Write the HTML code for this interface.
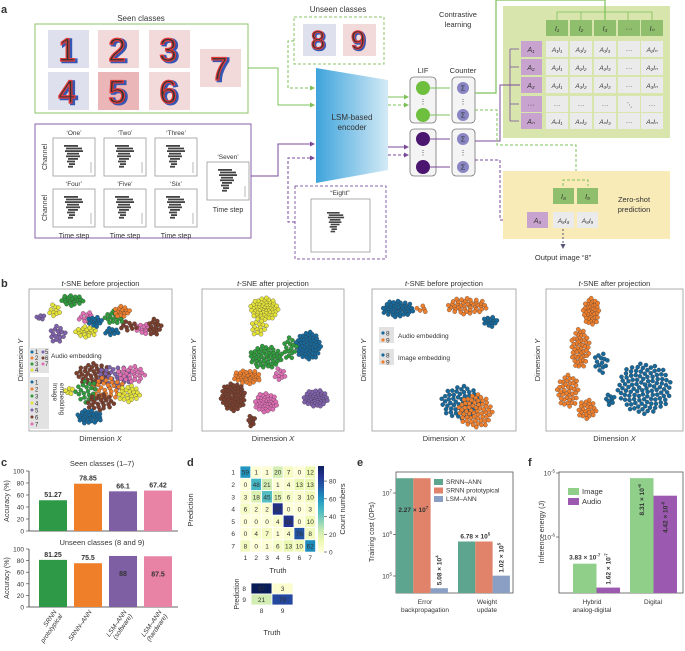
<!DOCTYPE html>
<html><head><meta charset="utf-8">
<style>
html,body{margin:0;padding:0;background:#fff;}
svg{display:block;font-family:"Liberation Sans",sans-serif;}
text{fill:#333;}
</style></head>
<body>
<svg id="fig" width="685" height="651" viewBox="0 0 685 651" xmlns="http://www.w3.org/2000/svg">
<defs>
<linearGradient id="encg" x1="0" x2="1" y1="0" y2="0"><stop offset="0" stop-color="#3ea4dc"/><stop offset="1" stop-color="#d4eaf6"/></linearGradient>
<marker id="ag" markerWidth="5" markerHeight="5" refX="4" refY="2.5" orient="auto"><path d="M0,0L5,2.5L0,5z" fill="#7cc05a"/></marker>
<marker id="ap" markerWidth="5" markerHeight="5" refX="4" refY="2.5" orient="auto"><path d="M0,0L5,2.5L0,5z" fill="#7b4a9a"/></marker>
<marker id="ak" markerWidth="5" markerHeight="5" refX="4" refY="2.5" orient="auto"><path d="M0,0L5,2.5L0,5z" fill="#557"/></marker>
</defs>

<!-- ===== Panel a ===== -->
<g>
<text x="1" y="13" font-size="11" font-weight="bold" fill="#000">a</text>
<text x="141" y="21" font-size="8" text-anchor="middle">Seen classes</text>
<rect x="35" y="24" width="213" height="89" fill="#fff" stroke="#8cc66b" stroke-width="1"/>
<g id="digits"></g>
<rect x="35" y="124" width="216" height="114" fill="#fff" stroke="#8a62a8" stroke-width="1"/>
<g id="specs"></g>
<text transform="translate(47,157) rotate(-90)" font-size="7" text-anchor="middle">Channel</text>
<text transform="translate(47,208) rotate(-90)" font-size="7" text-anchor="middle">Channel</text>

<text x="338" y="12" font-size="8" text-anchor="middle">Unseen classes</text>
<rect x="294" y="17" width="90" height="47" fill="none" stroke="#8cc66b" stroke-dasharray="3,2"/>
<rect x="303" y="24" width="33" height="32" fill="#dfe0ee"/>
<text x="319" y="50" font-size="26" text-anchor="middle" fill="none" stroke="#3757b5" stroke-width="2">8</text>
<text x="318" y="49" font-size="26" text-anchor="middle" fill="none" stroke="#e23b3b" stroke-width="1">8</text>
<rect x="343" y="24" width="33" height="32" fill="#f3dada"/>
<text x="359" y="50" font-size="26" text-anchor="middle" fill="none" stroke="#3757b5" stroke-width="2">9</text>
<text x="358" y="49" font-size="26" text-anchor="middle" fill="none" stroke="#e23b3b" stroke-width="1">9</text>

<rect x="295" y="186" width="91" height="73" fill="none" stroke="#8a62a8" stroke-dasharray="3,2"/>
<text x="340" y="195" font-size="6.5" text-anchor="middle">“Eight”</text>
<rect x="311" y="199" width="59" height="53" fill="#fff" stroke="#999" stroke-width="0.8"/>
<g id="eightspec"></g>

<!-- arrows into encoder -->
<path d="M248,68 H278 V105 H314" fill="none" stroke="#7cc05a" marker-end="url(#ag)"/>
<path d="M294,41 H288 V88 H314" fill="none" stroke="#7cc05a" stroke-dasharray="3,2" marker-end="url(#ag)"/>
<path d="M251,176 H278 V144 H314" fill="none" stroke="#7b4a9a" marker-end="url(#ap)"/>
<path d="M295,222 H288 V158 H314" fill="none" stroke="#7b4a9a" stroke-dasharray="3,2" marker-end="url(#ap)"/>

<polygon points="316,68 388,80 388,170 316,183" fill="url(#encg)"/>
<text x="352" y="120" font-size="8" text-anchor="middle" fill="#222">LSM-based</text>
<text x="352" y="130" font-size="8" text-anchor="middle" fill="#222">encoder</text>

<text x="423" y="73" font-size="7.5" text-anchor="middle">LIF</text>
<text x="463" y="73" font-size="7.5" text-anchor="middle">Counter</text>
<path d="M388,97 H408" stroke="#7cc05a" marker-end="url(#ag)"/>
<path d="M388,105 H408" stroke="#7cc05a" stroke-dasharray="3,2" marker-end="url(#ag)"/>
<path d="M388,147 H408" stroke="#7b4a9a" marker-end="url(#ap)"/>
<path d="M388,155 H408" stroke="#7b4a9a" stroke-dasharray="3,2" marker-end="url(#ap)"/>
<rect x="410" y="77" width="26" height="46" rx="4" fill="#f4f4f4" stroke="#777" stroke-width="0.8"/>
<rect x="410" y="129" width="26" height="47" rx="4" fill="#f4f4f4" stroke="#777" stroke-width="0.8"/>
<rect x="452" y="77" width="23" height="46" rx="4" fill="#f4f4f4" stroke="#777" stroke-width="0.8"/>
<rect x="452" y="129" width="23" height="47" rx="4" fill="#f4f4f4" stroke="#777" stroke-width="0.8"/>
<circle cx="423" cy="88" r="7" fill="#6fbf3f"/><circle cx="423" cy="115" r="7" fill="#6fbf3f"/>
<circle cx="423" cy="139" r="7" fill="#4a1670"/><circle cx="423" cy="167" r="7" fill="#4a1670"/>
<path d="M430,88H450M430,115H450" stroke="#7cc05a"/><path d="M430,139H450M430,167H450" stroke="#7b4a9a"/>
<g font-size="7" fill="#fff" text-anchor="middle">
<circle cx="463" cy="88" r="6" fill="#8a86c4"/><circle cx="463" cy="115" r="6" fill="#8a86c4"/>
<circle cx="463" cy="139" r="6" fill="#8a86c4"/><circle cx="463" cy="167" r="6" fill="#8a86c4"/>
<text x="463" y="90.5" fill="#223">Σ</text><text x="463" y="117.5" fill="#223">Σ</text><text x="463" y="141.5" fill="#223">Σ</text><text x="463" y="169.5" fill="#223">Σ</text>
</g>
<text x="423" y="104" font-size="7" text-anchor="middle">⋮</text><text x="423" y="155" font-size="7" text-anchor="middle">⋮</text>
<text x="463" y="104" font-size="7" text-anchor="middle">⋮</text><text x="463" y="155" font-size="7" text-anchor="middle">⋮</text>

<text x="458" y="17" font-size="7.5" text-anchor="middle">Contrastive</text>
<text x="458" y="27" font-size="7.5" text-anchor="middle">learning</text>

<rect x="503" y="6" width="167" height="132" fill="#d8e6ae"/>
<path d="M475,93 H496 V0 H605 V20" fill="none" stroke="#7cc05a" stroke-width="1.2"/>
<path d="M557,20 V12 H652 V20 M581,12V20 M605,12V20 M628,12V20" fill="none" stroke="#7cc05a" stroke-width="0.8"/>
<path d="M475,141 H500 V85 H520" fill="none" stroke="#7b4a9a"/>
<path d="M510,49 V121 M510,49H519 M510,67H519 M510,85H519 M510,104H519 M510,121H519" fill="none" stroke="#7b4a9a" stroke-width="0.8"/>
<g id="matrix"></g>

<path d="M475,110 H497 V145 H576 V186" fill="none" stroke="#7cc05a" stroke-dasharray="3,2"/>
<path d="M475,160 H500 V220 H525" fill="none" stroke="#7b4a9a" stroke-dasharray="3,2" marker-end="url(#ap)"/>
<rect x="503" y="171" width="167" height="68" fill="#f8ebb8"/>
<path d="M563,186 V180 H588 V186" fill="none" stroke="#7cc05a" stroke-dasharray="3,2"/>
<g id="zmatrix"></g>
<text x="634" y="202" font-size="7.5" text-anchor="middle">Zero-shot</text>
<text x="634" y="212" font-size="7.5" text-anchor="middle">prediction</text>
<path d="M563,229 V248" stroke="#557" stroke-dasharray="2,2" marker-end="url(#ak)"/>
<text x="563" y="260" font-size="7.5" text-anchor="middle">Output image “8”</text>
</g>

<!-- ===== Panel b ===== -->
<g>
<text x="1" y="287" font-size="11" font-weight="bold" fill="#000">b</text>
<g id="tsne"></g>
</g>

<!-- ===== Panel c ===== -->
<g id="pc">
<text x="1" y="466" font-size="11" font-weight="bold" fill="#000">c</text>
<text x="102" y="466" font-size="7.5" text-anchor="middle">Seen classes (1–7)</text>
<text x="102" y="545" font-size="7.5" text-anchor="middle">Unseen classes (8 and 9)</text>
<text transform="translate(9,501) rotate(-90)" font-size="7" text-anchor="middle">Accuracy (%)</text>
<text transform="translate(9,578) rotate(-90)" font-size="7" text-anchor="middle">Accuracy (%)</text>
</g>

<!-- ===== Panel d ===== -->
<g id="pd">
<text x="187" y="466" font-size="11" font-weight="bold" fill="#000">d</text>
<text transform="translate(193,510) rotate(-90)" font-size="7.5" text-anchor="middle">Prediction</text>
<text x="278" y="573" font-size="7.5" text-anchor="middle">Truth</text>
<text transform="translate(345,509) rotate(-90)" font-size="7.5" text-anchor="middle">Count numbers</text>
<text transform="translate(239,594) rotate(-90)" font-size="7" text-anchor="middle">Prediction</text>
<text x="272" y="635" font-size="7.5" text-anchor="middle">Truth</text>
</g>

<!-- ===== Panel e ===== -->
<g id="pe">
<text x="357" y="466" font-size="11" font-weight="bold" fill="#000">e</text>
<text transform="translate(374,532) rotate(-90)" font-size="7" text-anchor="middle">Training cost (OPs)</text>
</g>

<!-- ===== Panel f ===== -->
<g id="pf">
<text x="528" y="466" font-size="11" font-weight="bold" fill="#000">f</text>
<text transform="translate(544,532) rotate(-90)" font-size="7" text-anchor="middle">Inference energy (J)</text>
</g>
</svg>

<script>
// ---------- data ----------
const accCategories = ["SRNN prototypical","SRNN–ANN","LSM–ANN (software)","LSM–ANN (hardware)"];
const accSeen = [51.27, 78.85, 66.1, 67.42];
const accUnseen = [81.25, 75.5, 88, 87.5];
const accColors = ["#2e9a47","#f07f2a","#7e5fa3","#e883a5"];
const accTicks = [0,20,40,60,80,100];

const confLabels = ["1","2","3","4","5","6","7"];
const confMatrix = [
 [59,1,1,20,7,0,12],
 [0,48,21,1,4,13,13],
 [3,18,45,15,6,3,10],
 [6,2,2,87,0,0,3],
 [0,0,0,4,86,0,10],
 [0,4,7,1,4,76,8],
 [8,0,1,6,13,10,62]];
const confSmallLabels = ["8","9"];
const confSmall = [[97,3],[21,79]];
const cbarTicks = [0,20,40,60,80];

const costGroups = ["Error backpropagation","Weight update"];
const costSeries = ["SRNN–ANN","SRNN prototypical","LSM–ANN"];
const costBackprop = [2.27e7, 2.27e7, 5.08e4];
const costUpdate = [6.78e5, 6.78e5, 1.02e5];
const costExpTicks = [5,6,7];

const energyGroups = ["Hybrid analog-digital","Digital"];
const energyImage = [3.83e-7, 8.31e-6];
const energyAudio = [1.62e-7, 4.42e-6];
const energyExpTicks = [-6,-5];

// t-SNE clusters: [cx, cy, rx, ry, classIndex, count] in normalized panel coords
const tsne1 = [[0.30,0.08,0.08,0.04,2,22],[0.18,0.15,0.04,0.05,3,10],[0.08,0.20,0.03,0.02,4,6],[0.20,0.32,0.06,0.06,4,16],[0.40,0.20,0.06,0.04,6,12],[0.40,0.30,0.08,0.04,3,20],[0.46,0.23,0.05,0.04,0,14],[0.60,0.20,0.07,0.05,2,18],[0.65,0.16,0.06,0.04,1,16],[0.58,0.30,0.05,0.03,0,10],[0.80,0.28,0.06,0.04,6,14],[0.88,0.27,0.05,0.06,5,16],[0.70,0.26,0.06,0.04,5,10],
 [0.45,0.60,0.12,0.08,5,40],[0.60,0.62,0.12,0.08,4,34],[0.72,0.60,0.10,0.06,6,26],[0.55,0.70,0.12,0.08,1,30],[0.40,0.72,0.08,0.08,2,20],[0.70,0.74,0.08,0.06,3,24],[0.50,0.80,0.10,0.06,5,24],[0.42,0.90,0.09,0.05,0,30],[0.28,0.72,0.03,0.03,3,6]];
const tsne2 = [[0.44,0.14,0.10,0.08,3,60],[0.40,0.27,0.06,0.06,3,16],[0.75,0.40,0.09,0.10,0,60],[0.45,0.48,0.12,0.08,2,50],[0.62,0.42,0.05,0.08,2,16],[0.22,0.76,0.09,0.10,5,55],[0.32,0.62,0.10,0.05,1,34],[0.45,0.80,0.08,0.07,6,44],[0.80,0.77,0.09,0.06,4,46],[0.35,0.93,0.03,0.04,5,8],[0.55,0.60,0.04,0.05,6,10]];
const tsne3 = [[0.18,0.14,0.11,0.06,0,44],[0.35,0.14,0.04,0.03,1,5],[0.66,0.12,0.14,0.06,1,44],[0.82,0.23,0.05,0.04,0,14],[0.62,0.80,0.14,0.12,0,60],[0.72,0.86,0.12,0.12,1,60]];
const tsne4 = [[0.33,0.16,0.06,0.10,1,40],[0.25,0.42,0.07,0.14,1,50],[0.16,0.72,0.08,0.12,1,40],[0.30,0.85,0.07,0.07,1,24],[0.40,0.52,0.05,0.08,0,14],[0.72,0.70,0.20,0.18,0,110],[0.47,0.78,0.04,0.04,0,8]];
const tsneColors = ["#17699c","#ee7f2d","#2f9b3c","#e5e33a","#7f62ab","#7b3f2e","#df6fb5"];

const svg = document.getElementById('fig');
const NS = "http://www.w3.org/2000/svg";
function mk(tag, attrs, parent, txt){const e=document.createElementNS(NS,tag);for(const k in attrs)e.setAttribute(k,attrs[k]);if(txt!==undefined)e.textContent=txt;(parent||svg).appendChild(e);return e;}

// ---------- panel a: digit images ----------
const dg = document.getElementById('digits');
const digitCells = [["1",48,30,"#dfe0ee"],["2",98,30,"#f3dada"],["3",149,30,"#f3dada"],["4",48,72,"#dfe0ee"],["5",98,72,"#eab6b8"],["6",149,72,"#f3dada"],["7",200,49,"#f3dada"]];
digitCells.forEach(d=>{
  mk('rect',{x:d[1],y:d[2],width:41,height:38,fill:d[3]},dg);
  mk('text',{x:d[1]+21,y:d[2]+32,'font-size':32,'text-anchor':'middle',fill:'none',stroke:'#3757b5','stroke-width':2.4},dg,d[0]);
  mk('text',{x:d[1]+19,y:d[2]+31,'font-size':32,'text-anchor':'middle',fill:'none',stroke:'#e23b3b','stroke-width':1.2},dg,d[0]);
});
// spectrograms (decorative stroke stacks)
const specRows=[[0,14],[2,16],[1,18],[3,12],[2,14],[4,10],[3,8],[5,6],[4,5]];
function specDraw(x,y,parent,scale){
  specRows.forEach((r,k)=>mk('rect',{x:x+r[0]*scale,y:y+k*2.6*scale,width:r[1]*scale,height:1.8*scale,fill:'#222',opacity:0.85},parent));
}
const sp = document.getElementById('specs');
const specCells = [["‘One’",53,138],["‘Two’",104,138],["‘Three’",155,138],["‘Four’",53,189],["‘Five’",104,189],["‘Six’",155,189],["‘Seven’",207,162]];
specCells.forEach((s,i)=>{
  mk('text',{x:s[1]+21,y:s[2]-3,'font-size':6.5,'text-anchor':'middle'},sp,s[0]);
  mk('rect',{x:s[1],y:s[2],width:42,height:38,fill:'#fff',stroke:'#999','stroke-width':0.8},sp);
  specDraw(s[1]+11,s[2]+7,sp,1);
  mk('line',{x1:s[1]+38,x2:s[1]+38,y1:s[2]+24,y2:s[2]+35,stroke:'#888','stroke-width':0.6},sp);
  if(i>=3) mk('text',{x:s[1]+21,y:s[2]+(i==6?50:49),'font-size':7,'text-anchor':'middle'},sp,'Time step');
});
specDraw(327,212,document.getElementById('eightspec'),0.9);
// similarity matrix
const mg = document.getElementById('matrix');
const colX=[546,570,594,618,641], rowY=[41,59,77,96,113];
const iLab=["I₁","I₂","I₃","···","Iₙ"], aLab=["A₁","A₂","A₃","···","Aₙ"];
const rs=["₁","₂","₃","","ₙ"];
colX.forEach((x,j)=>{mk('rect',{x:x,y:20,width:22,height:16,fill:'#8fbf6d'},mg);mk('text',{x:x+11,y:31,'font-size':7,'text-anchor':'middle','font-style':'italic'},mg,iLab[j]);});
rowY.forEach((y,i)=>{
  mk('rect',{x:521,y:y,width:21,height:16,fill:'#c9a3cf'},mg);
  mk('text',{x:531,y:y+11,'font-size':7,'text-anchor':'middle','font-style':'italic'},mg,aLab[i]);
  colX.forEach((x,j)=>{
    mk('rect',{x:x,y:y,width:22,height:16,fill:'#ebebeb'},mg);
    let t = (i==3||j==3) ? (i==3&&j==3?'⋱':'···') : 'A'+rs[i]+'I'+rs[j];
    mk('text',{x:x+11,y:y+11,'font-size':6.5,'text-anchor':'middle','font-style':'italic'},mg,t);
  });
});
const zg = document.getElementById('zmatrix');
[[553,"I₈"],[577,"I₉"]].forEach(c=>{mk('rect',{x:c[0],y:188,width:21,height:16,fill:'#8fbf6d'},zg);mk('text',{x:c[0]+10.5,y:199,'font-size':7,'text-anchor':'middle','font-style':'italic'},zg,c[1]);});
mk('rect',{x:527,y:212,width:21,height:16,fill:'#c9a3cf'},zg);mk('text',{x:537.5,y:223,'font-size':7,'text-anchor':'middle','font-style':'italic'},zg,'A₈');
[[553,"A₈I₈"],[577,"A₈I₉"]].forEach(c=>{mk('rect',{x:c[0],y:212,width:21,height:16,fill:'#ebebeb'},zg);mk('text',{x:c[0]+10.5,y:223,'font-size':6.5,'text-anchor':'middle','font-style':'italic'},zg,c[1]);});

// ---------- panel b: t-SNE ----------
const tsneBoxes=[[29,289,143,142,"t-SNE before projection",tsne1],[202,289,142,142,"t-SNE after projection",tsne2],[372,289,144,142,"t-SNE before projection",tsne3],[546,289,137,142,"t-SNE after projection",tsne4]];
const tg=document.getElementById('tsne');
tsneBoxes.forEach((b,bi)=>{
  const g=mk('g',{},tg);
  
  
  const t=mk('text',{x:b[0]+b[2]/2,y:286,'font-size':7.5,'text-anchor':'middle'},g);
  mk('tspan',{'font-style':'italic'},t,'t');mk('tspan',{},t,b[4].slice(1));
  mk('rect',{x:b[0],y:b[1],width:b[2],height:b[3],fill:'#fff',stroke:'#999','stroke-width':0.8},g);
  const xt=mk('text',{x:b[0]+b[2]/2,y:441,'font-size':7.5,'text-anchor':'middle'},g);
  mk('tspan',{},xt,'Dimension ');mk('tspan',{'font-style':'italic'},xt,'X');
  const yt=mk('text',{transform:`translate(${b[0]-6},${b[1]+b[3]/2}) rotate(-90)`,'font-size':7.5,'text-anchor':'middle'},g);
  mk('tspan',{},yt,'Dimension ');mk('tspan',{'font-style':'italic'},yt,'Y');
  const ga=2.39996;
  b[5].forEach(c=>{
    for(let k=0;k<c[5];k++){
      const r=Math.sqrt((k+0.5)/c[5]); const a=k*ga;
      const px=b[0]+(c[0]+c[2]*r*Math.cos(a))*b[2];
      const py=b[1]+(c[1]+c[3]*r*Math.sin(a))*b[3];
      const p=mk('circle',{cx:px.toFixed(1),cy:py.toFixed(1),r:2.1,fill:tsneColors[c[4]],stroke:'#333','stroke-width':0.3},g);
      
      
    }
  });
});
// legends for b1 and b3
(function(){
  const g=mk('g',{},tg);
  
  
  mk('rect',{x:29,y:348,width:20,height:25,fill:'#e2e2e2'},g);
  mk('rect',{x:29,y:377,width:20,height:52,fill:'#e2e2e2'},g);
  ["1","2","3","4"].forEach((l,i)=>{mk('circle',{cx:32,cy:352+i*6,r:1.5,fill:tsneColors[i]},g);mk('text',{x:35,y:354+i*6,'font-size':6},g,l);});
  ["5","6","7"].forEach((l,i)=>{mk('circle',{cx:43,cy:352+i*6,r:1.5,fill:tsneColors[i+4]},g);mk('text',{x:45,y:354+i*6,'font-size':6},g,l);});
  ["1","2","3","4","5","6","7"].forEach((l,i)=>{mk('circle',{cx:32,cy:382+i*7,r:1.5,fill:tsneColors[i]},g);mk('text',{x:35,y:384.5+i*7,'font-size':6},g,l);});
  mk('text',{x:51,y:358,'font-size':6.5},g,'Audio embedding');
  mk('text',{transform:'translate(53,383) rotate(90)','font-size':6.5},g,'Image');
  mk('text',{transform:'translate(60,383) rotate(90)','font-size':6.5},g,'embedding');
  const g2=mk('g',{},tg);
  
  
  mk('rect',{x:379,y:327,width:15,height:16,fill:'#e2e2e2'},g2);
  mk('rect',{x:379,y:349,width:15,height:16,fill:'#e2e2e2'},g2);
  [[333,0,"8"],[340,1,"9"],[355,0,"8"],[362,1,"9"]].forEach(e=>{mk('circle',{cx:383,cy:e[0],r:1.6,fill:tsneColors[e[1]]},g2);mk('text',{x:386,y:e[0]+2.5,'font-size':6.5},g2,e[2]);});
  mk('text',{x:398,y:338,'font-size':6.5},g2,'Audio embedding');
  mk('text',{x:398,y:360,'font-size':6.5},g2,'Image embedding');
})();

// ---------- panel c ----------
const pc=document.getElementById('pc');
const barX0=39, barW=28, barStep=35;
function accPlot(vals,y0,ppu,seen){
  const yS=v=>y0-v*ppu;
  mk('line',{x1:29,x2:29,y1:yS(100),y2:y0,stroke:'#333','stroke-width':0.8},pc);
  mk('line',{x1:29,x2:178,y1:y0,y2:y0,stroke:'#333','stroke-width':0.8},pc);
  accTicks.forEach(t=>{mk('line',{x1:26,x2:29,y1:yS(t),y2:yS(t),stroke:'#333','stroke-width':0.6},pc);mk('text',{x:24,y:yS(t)+2.5,'font-size':6.5,'text-anchor':'end'},pc,t);});
  vals.forEach((v,i)=>{
    const x=barX0+i*barStep;
    const r=mk('rect',{x:x,y:yS(v),width:barW,height:v*ppu,fill:accColors[i]},pc);
    
    
    const inside=!seen&&i>=2;
    mk('text',{x:x+barW/2,y:inside?yS(v)+20:yS(v)-3,'font-size':7,'font-weight':'bold','text-anchor':'middle',fill:inside?'#fff':'#222'},pc,v);
  });
}
accPlot(accSeen,531,0.6,true);
accPlot(accUnseen,607,0.58,false);
accCategories.forEach((c,i)=>{
  const x=barX0+i*barStep+barW/2+4;
  const parts=c.split(' ');
  const t=mk('text',{transform:`translate(${x},612) rotate(-55)`,'font-size':6.5,'text-anchor':'end','font-style':'italic'},pc);
  mk('tspan',{x:0,dy:0},t,parts[0]);
  if(parts[1]) mk('tspan',{x:0,dy:7},t,parts[1]);
});

// ---------- panel d ----------
const pd=document.getElementById('pd');
const stops=[[0,[255,255,217]],[0.125,[237,248,177]],[0.25,[199,233,180]],[0.375,[127,205,187]],[0.5,[65,182,196]],[0.625,[29,145,192]],[0.75,[34,94,168]],[0.875,[37,52,148]],[1,[8,29,88]]];
const cmax=97;
function ylgnbu(v){let f=Math.max(0,Math.min(1,v/cmax));for(let i=1;i<stops.length;i++){if(f<=stops[i][0]){const a=stops[i-1],b=stops[i],t=(f-a[0])/(b[0]-a[0]);return 'rgb('+a[1].map((c,k)=>Math.round(c+(b[1][k]-c)*t)).join(',')+')';}}return 'rgb(8,29,88)';}
function heat(mat,labels,x0,y0,cw,ch,nm){
  mat.forEach((row,i)=>{
    mk('text',{x:x0-5,y:y0+i*ch+ch/2+2.5,'font-size':6.5,'text-anchor':'end'},pd,labels[i]);
    row.forEach((v,j)=>{
      const r=mk('rect',{x:x0+j*cw,y:y0+i*ch,width:cw,height:ch,fill:ylgnbu(v),stroke:'#fff','stroke-width':0.8},pd);
      
      
      mk('text',{x:x0+j*cw+cw/2,y:y0+i*ch+ch/2+2.5,'font-size':6.5,'text-anchor':'middle',fill:v>50?'#fff':'#222'},pd,v);
    });
  });
  labels.forEach((l,j)=>mk('text',{x:x0+j*cw+cw/2,y:y0+mat.length*ch+8,'font-size':6.5,'text-anchor':'middle'},pd,l));
}
heat(confMatrix,confLabels,240,466,10.8,12.3,'confusion-seen');
heat(confSmall,confSmallLabels,251,583,21,11,'confusion-unseen');
// colorbar
const cbX=318,cbY0=552,cbH=86;
for(let k=0;k<40;k++){const v=cmax*k/40;mk('rect',{x:cbX,y:cbY0-(k+1)*cbH/40,width:6,height:cbH/40+0.5,fill:ylgnbu(v)},pd);}
cbarTicks.forEach(t=>{const y=cbY0-t/cmax*cbH;mk('line',{x1:324,x2:327,y1:y,y2:y,stroke:'#333','stroke-width':0.6},pd);mk('text',{x:329,y:y+2.5,'font-size':6.5},pd,t);});

// ---------- panel e ----------
const pe=document.getElementById('pe');
const eTop=472,eBot=593,eL=396,eR=513;
const eY=v=>493-(Math.log10(v)-7)*41.5;
const costColors=["#5da58f","#e0836a","#8b9fc4"];
mk('rect',{x:eL,y:eTop,width:eR-eL,height:eBot-eTop,fill:'none',stroke:'#555','stroke-width':0.8},pe);
costExpTicks.forEach(e=>{const y=eY(Math.pow(10,e));mk('line',{x1:eL-3,x2:eL,y1:y,y2:y,stroke:'#333','stroke-width':0.6},pe);const t=mk('text',{x:eL-4,y:y+2.5,'font-size':6.5,'text-anchor':'end'},pe,'10');mk('tspan',{dy:-3,'font-size':4.5},t,e);});
const costData=[costBackprop,costUpdate];
const gX=[396,458], bw=17.3;
costData.forEach((vals,gi)=>{
  vals.forEach((v,si)=>{
    const x=gX[gi]+si*bw;
    const r=mk('rect',{x:x,y:eY(v),width:bw,height:eBot-eY(v),fill:costColors[si]},pe);
    
    
  });
});
function sci(v){const e=Math.floor(Math.log10(v));return [(v/Math.pow(10,e)).toFixed(2),e];}
function sciText(x,y,v,fill,rot){const s=sci(v);const a=rot?{transform:`translate(${x},${y}) rotate(-90)`,'font-size':6.5,'font-weight':'bold','text-anchor':'start',fill:fill}:{x:x,y:y,'font-size':6.5,'font-weight':'bold','text-anchor':'middle',fill:fill};const t=mk('text',a,pe,s[0]+' × 10');mk('tspan',{dy:-3,'font-size':4.5},t,s[1]);}
sciText(gX[0]+bw,512,costBackprop[0],'#fff');
sciText(gX[0]+2*bw+11,eY(costBackprop[2])-3,costBackprop[2],'#222',true);
sciText(gX[1]+bw,eY(costUpdate[0])-3,costUpdate[0],'#222');
sciText(gX[1]+2*bw+11,eY(costUpdate[2])-3,costUpdate[2],'#222',true);
costSeries.forEach((s,i)=>{const y=484+i*8.5;mk('rect',{x:434,y:y-5,width:9,height:6,fill:costColors[i]},pe);mk('text',{x:446,y:y,'font-size':6.5},pe,s);});
mk('text',{x:425,y:604,'font-size':6.5,'text-anchor':'middle'},pe,'Error');
mk('text',{x:425,y:612,'font-size':6.5,'text-anchor':'middle'},pe,'backpropagation');
mk('text',{x:487,y:604,'font-size':6.5,'text-anchor':'middle'},pe,'Weight');
mk('text',{x:487,y:612,'font-size':6.5,'text-anchor':'middle'},pe,'update');

// ---------- panel f ----------
const pf=document.getElementById('pf');
const fTop=472,fBot=593,fL=559,fR=684;
const fY=v=>473-(Math.log10(v)+5)*64;
const enColors=["#8fcf8a","#9b59b0"];
mk('rect',{x:fL,y:fTop,width:fR-fL-1,height:fBot-fTop,fill:'none',stroke:'#555','stroke-width':0.8},pf);
energyExpTicks.forEach(e=>{const y=fY(Math.pow(10,e));mk('line',{x1:fL-3,x2:fL,y1:y,y2:y,stroke:'#333','stroke-width':0.6},pf);const t=mk('text',{x:fL-4,y:y+2.5,'font-size':6.5,'text-anchor':'end'},pf,'10');mk('tspan',{dy:-3,'font-size':4.5},t,e);});
const fX=[573,630], fw=23.5;
energyGroups.forEach((g,gi)=>{
  [energyImage[gi],energyAudio[gi]].forEach((v,si)=>{
    const x=fX[gi]+si*fw;
    const r=mk('rect',{x:x,y:fY(v),width:fw,height:fBot-fY(v),fill:enColors[si]},pf);
    
    
  });
});
function sciF(x,y,v,fill,rot){const s=sci(v);const t=mk('text',rot?{transform:`translate(${x},${y}) rotate(-90)`,'font-size':6.5,'font-weight':'bold','text-anchor':rot,fill:fill}:{x:x,y:y,'font-size':6.5,'font-weight':'bold','text-anchor':'middle',fill:fill},pf,s[0]+' × 10');mk('tspan',{dy:-3,'font-size':4.5},t,s[1]);}
sciF(fX[0]+fw/2,fY(energyImage[0])-4,energyImage[0],'#222');
sciF(fX[0]+fw*1.5+2,fY(energyAudio[0])-3,energyAudio[0],'#222','start');
sciF(fX[1]+fw/2+2,fY(energyImage[1])+6,energyImage[1],'#fff','end');
sciF(fX[1]+fw*1.5+2,fY(energyAudio[1])+6,energyAudio[1],'#fff','end');
[["Image",0],["Audio",1]].forEach((l,i)=>{const y=494+i*10;mk('rect',{x:568,y:y-6,width:11,height:7,fill:enColors[i]},pf);mk('text',{x:582,y:y,'font-size':7.5},pf,l[0]);});
mk('text',{x:592,y:604,'font-size':6.5,'text-anchor':'middle'},pf,'Hybrid');
mk('text',{x:592,y:612,'font-size':6.5,'text-anchor':'middle'},pf,'analog-digital');
mk('text',{x:653,y:604,'font-size':6.5,'text-anchor':'middle'},pf,'Digital');
</script>
</body></html>
